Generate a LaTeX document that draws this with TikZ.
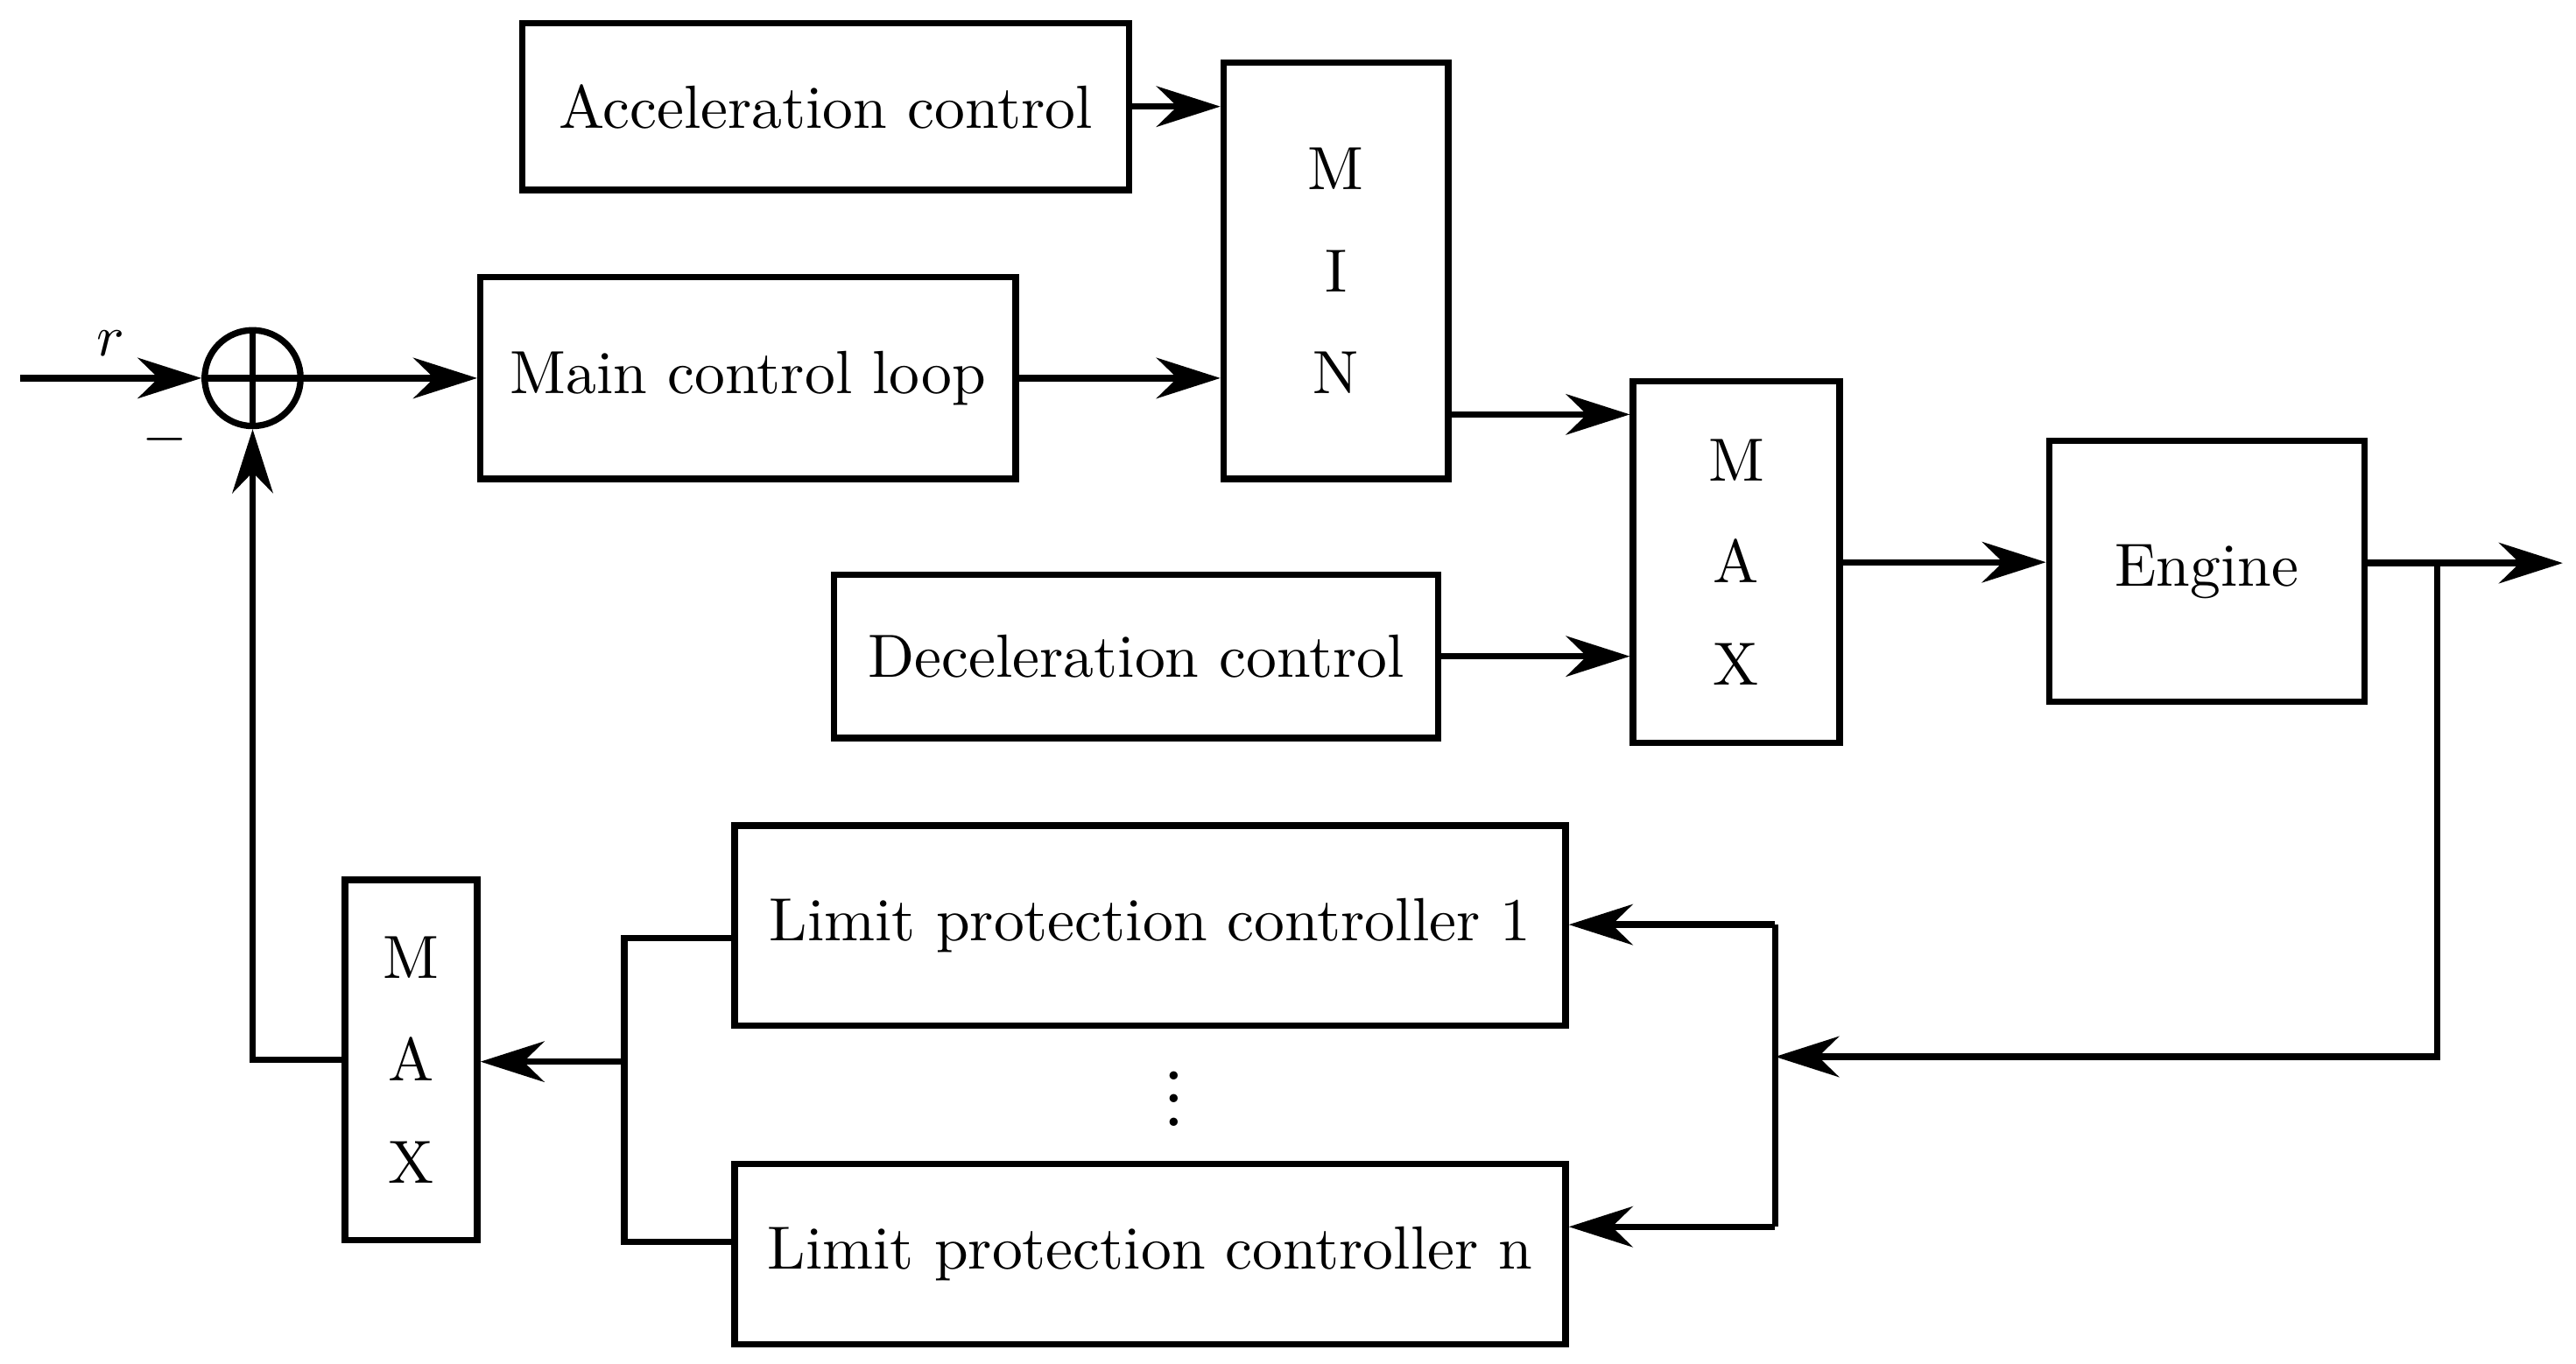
\documentclass[tikz,border=0pt]{standalone}
\usetikzlibrary{arrows.meta}
\begin{document}
\begin{tikzpicture}[x=0.01cm,y=-0.01cm,line width=1.1pt,
  blk/.style={draw,inner sep=0pt,font=\fontsize{10.5}{12}\selectfont},
  stk/.style={blk,align=center},
  arr/.style={-{Stealth[length=11pt,width=7pt]}}]
\useasboundingbox (0,0) rectangle (1560,826);

% blocks
\node[blk,minimum width=3.67cm,minimum height=1.01cm] (acc) at (500,64.5) {Acceleration control};
\node[blk,minimum width=3.24cm,minimum height=1.22cm] (main) at (453,229) {Main control loop};
\node[stk,minimum width=1.36cm,minimum height=2.52cm] (min) at (809,164) {M\\[5.6pt]I\\[5.6pt]N};
\node[blk,minimum width=3.66cm,minimum height=0.99cm] (dec) at (688,397.5) {Deceleration control};
\node[stk,minimum width=1.25cm,minimum height=2.19cm] (max1) at (1051.5,340.5) {M\\[5.6pt]A\\[5.6pt]X};
\node[blk,minimum width=1.91cm,minimum height=1.58cm] (eng) at (1336.5,346) {Engine};
\node[blk,minimum width=5.03cm,minimum height=1.21cm] (lp1) at (696.5,560.5) {Limit protection controller 1};
\node[blk,minimum width=5.03cm,minimum height=1.09cm] (lpn) at (696.5,759.5) {Limit protection controller n};
\node[stk,minimum width=0.80cm,minimum height=2.18cm] (max2) at (249,642) {M\\[5.6pt]A\\[5.6pt]X};
\node[draw,circle,minimum size=0.58cm,inner sep=0pt] (sum) at (153,229) {};
\draw (sum.north) -- (sum.south) (sum.west) -- (sum.east);
\node[font=\LARGE] (dots) at (711,655) {$\vdots$};

% coordinates
\coordinate (in) at (12,229);
\coordinate (out) at (1552,341);
\coordinate (tap) at (1476,341);
\coordinate (fb) at (1075,640);
\coordinate (j1) at (1075,560);
\coordinate (jn) at (1075,743);
\coordinate (c1) at (378,568);
\coordinate (cn) at (378,752);
\coordinate (cm) at (378,643);

% connectors
\draw[arr] (in) -- node[above,pos=0.5]{$r$} (sum.west);
\node at (100,266) {$-$};
\draw[arr] (sum.east) -- (main.west);
\draw[arr] (acc.east) -- (acc.east -| min.west);
\draw[arr] (main.east) -- (main.east -| min.west);
\draw[arr] (min.east |- 0,251) -- (max1.west |- 0,251);
\draw[arr] (dec.east) -- (dec.east -| max1.west);
\draw[arr] (max1.east) -- (max1.east -| eng.west);
\draw[arr] (eng.east |- out) -- (out);
\draw[arr] (tap) |- (fb);
\draw (j1) -- (jn);
\draw[arr] (j1) -- (lp1.east |- j1);
\draw[arr] (jn) -- (lpn.east |- jn);
\draw (lp1.west |- c1) -- (c1) -- (cn) -- (lpn.west |- cn);
\draw[arr] (cm) -- (max2.east |- cm);
\draw[arr] (max2.west) -| (sum.south);
\end{tikzpicture}
\end{document}
